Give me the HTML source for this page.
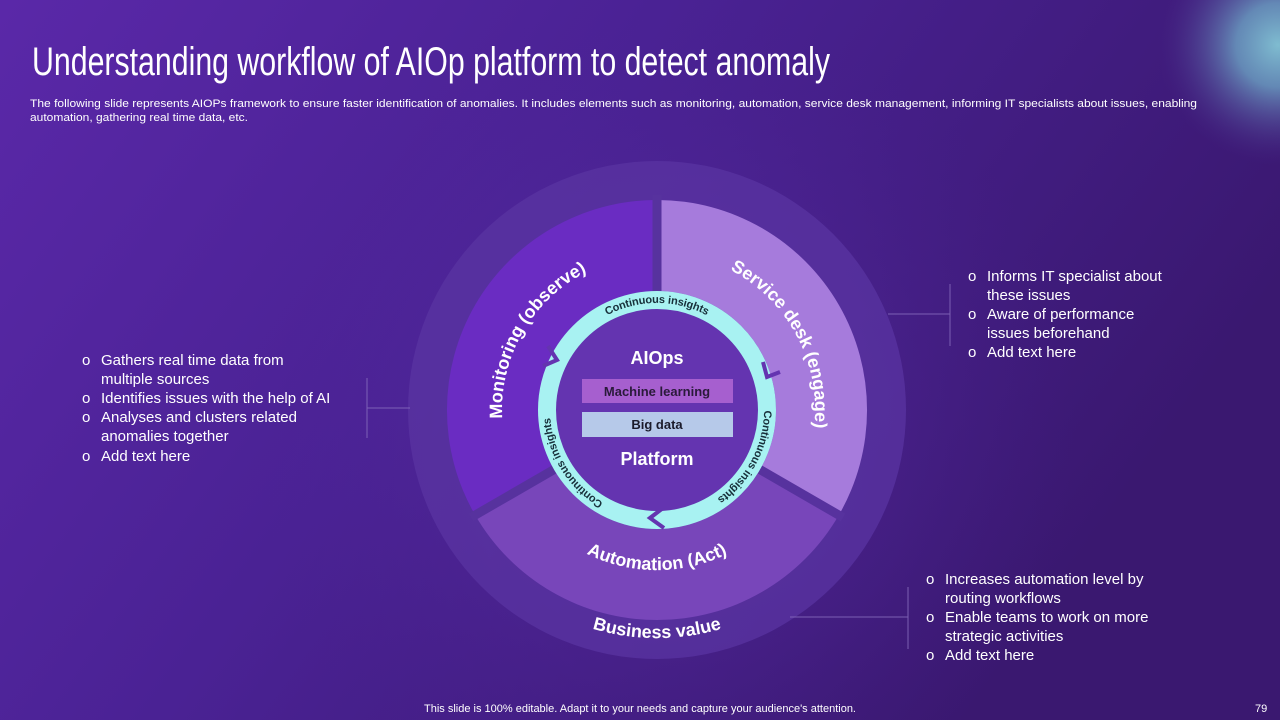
<!DOCTYPE html>
<html><head><meta charset="utf-8"><style>
html,body{margin:0;padding:0;width:1280px;height:720px;overflow:hidden;background:#42208a}
svg{display:block}
text{font-family:"Liberation Sans",Arial,sans-serif}
</style></head><body>
<svg width="1280" height="720" viewBox="0 0 1280 720" xmlns="http://www.w3.org/2000/svg">
<defs>
<linearGradient id="bg" x1="0" y1="0" x2="1" y2="0.4">
<stop offset="0" stop-color="#5a28a8"/><stop offset="0.45" stop-color="#4a2294"/><stop offset="1" stop-color="#3a1870"/>
</linearGradient>
<radialGradient id="glow" cx="1278" cy="45" r="120" gradientUnits="userSpaceOnUse">
<stop offset="0" stop-color="#7fbcd0"/><stop offset="0.35" stop-color="#6a9cc0" stop-opacity="0.85"/><stop offset="1" stop-color="#4a2a8a" stop-opacity="0"/>
</radialGradient>
<radialGradient id="halo" cx="657" cy="420" r="420" gradientUnits="userSpaceOnUse">
<stop offset="0" stop-color="#6a3ab8" stop-opacity="0.5"/><stop offset="1" stop-color="#4a2294" stop-opacity="0"/>
</radialGradient>
<path id="pTop" d="M572.7,339.3 A110,110 0 0 1 741.3,339.3"/>
<path id="pRight" d="M759,368.8 A110,110 0 0 1 679.9,517.6"/>
<path id="pLeft" d="M641.7,518.9 A110,110 0 0 1 552.4,376"/>
<path id="pMon" d="M522.8,487.5 A155,155 0 0 1 657,255"/>
<path id="pSvc" d="M662.5,252 A158,158 0 0 1 791,493.7"/>
<path id="pAut" d="M534.4,512.9 A160,160 0 0 0 779.6,512.9"/>
<path id="pBiz" d="M482.3,556.6 A228,228 0 0 0 831.7,556.6"/>
</defs>
<rect width="1280" height="720" fill="url(#bg)"/>
<rect width="1280" height="720" fill="url(#halo)"/>
<circle cx="1278" cy="45" r="120" fill="url(#glow)"/>

<text x="32" y="75" font-size="40" fill="#fff" textLength="798" lengthAdjust="spacingAndGlyphs">Understanding workflow of AIOp platform to detect anomaly</text>
<text x="30" y="107" font-size="11" fill="#fff" textLength="1167" lengthAdjust="spacingAndGlyphs">The following slide represents AIOPs framework to ensure faster identification of anomalies. It includes elements such as monitoring, automation, service desk management, informing IT specialists about issues, enabling</text>
<text x="30" y="121" font-size="11" fill="#fff" textLength="218" lengthAdjust="spacingAndGlyphs">automation, gathering real time data, etc.</text>

<circle cx="657" cy="410" r="249" fill="#5a34a2" opacity="0.75"/>
<path d="M657,410 L657,200 A210,210 0 0 1 838.9,515 Z" fill="#a67bdc"/>
<path d="M657,410 L838.9,515 A210,210 0 0 1 475.1,515 Z" fill="#7846ba"/>
<path d="M657,410 L475.1,515 A210,210 0 0 1 657,200 Z" fill="#6a2cc2"/>
<g stroke="#57329e" stroke-width="9">
<line x1="657" y1="410" x2="657" y2="195"/>
<line x1="657" y1="410" x2="843" y2="517.5"/>
<line x1="657" y1="410" x2="471" y2="517.5"/>
</g>
<circle cx="657" cy="410" r="119" fill="#6434b0"/>
<circle cx="657" cy="410" r="110" fill="none" stroke="#a8f2f2" stroke-width="18"/>
<g fill="none" stroke="#6434b0" stroke-width="4">
<polyline points="548,346 557,360 543,366"/>
<polyline points="763,362 767,377 780,372"/>
<polyline points="663,508 650,518 664,528"/>
</g>
<g font-size="11" font-weight="bold" fill="#17303a" dominant-baseline="central">
<text><textPath href="#pTop" startOffset="50%" text-anchor="middle">Continuous  insights</textPath></text>
<text><textPath href="#pRight" startOffset="50%" text-anchor="middle">Continuous  insights</textPath></text>
<text><textPath href="#pLeft" startOffset="50%" text-anchor="middle">Continuous  insights</textPath></text>
</g>
<text x="657" y="364" font-size="18" font-weight="bold" fill="#fff" text-anchor="middle">AIOps</text>
<rect x="582" y="379" width="151" height="24" fill="#a65fcf"/>
<text x="657" y="396" font-size="13" font-weight="bold" fill="#2a1a3a" text-anchor="middle">Machine learning</text>
<rect x="582" y="412" width="151" height="25" fill="#b6c9e9"/>
<text x="657" y="429" font-size="13" font-weight="bold" fill="#1a1a2a" text-anchor="middle">Big data</text>
<text x="657" y="465" font-size="18" font-weight="bold" fill="#fff" text-anchor="middle">Platform</text>

<g font-size="18" font-weight="bold" fill="#fff">
<text><textPath href="#pMon" startOffset="50%" text-anchor="middle">Monitoring (observe)</textPath></text>
<text><textPath href="#pSvc" startOffset="50%" text-anchor="middle">Service desk (engage)</textPath></text>
<text><textPath href="#pAut" startOffset="50%" text-anchor="middle">Automation (Act)</textPath></text>
<text><textPath href="#pBiz" startOffset="50%" text-anchor="middle">Business value</textPath></text>
</g>

<g stroke="#8a70c0" stroke-width="1" opacity="0.8">
<line x1="367" y1="378" x2="367" y2="438"/><line x1="367" y1="408" x2="410" y2="408"/>
<line x1="950" y1="284" x2="950" y2="346"/><line x1="888" y1="314" x2="950" y2="314"/>
<line x1="908" y1="587" x2="908" y2="649"/><line x1="790" y1="617" x2="908" y2="617"/>
</g>

<g font-size="15" fill="#fff">
<text x="82" y="365">o</text><text x="101" y="365">Gathers real time data from</text>
<text x="101" y="384">multiple sources</text>
<text x="82" y="403">o</text><text x="101" y="403">Identifies issues with the help of AI</text>
<text x="82" y="422">o</text><text x="101" y="422">Analyses and clusters related</text>
<text x="101" y="441">anomalies together</text>
<text x="82" y="461">o</text><text x="101" y="461">Add text here</text>

<text x="968" y="281">o</text><text x="987" y="281">Informs IT specialist about</text>
<text x="987" y="300">these issues</text>
<text x="968" y="319">o</text><text x="987" y="319">Aware of performance</text>
<text x="987" y="338">issues beforehand</text>
<text x="968" y="357">o</text><text x="987" y="357">Add text here</text>

<text x="926" y="584">o</text><text x="945" y="584">Increases automation level by</text>
<text x="945" y="603">routing workflows</text>
<text x="926" y="622">o</text><text x="945" y="622">Enable teams to work on more</text>
<text x="945" y="641">strategic activities</text>
<text x="926" y="660">o</text><text x="945" y="660">Add text here</text>
</g>

<text x="640" y="712" font-size="11" fill="#fff" text-anchor="middle">This slide is 100% editable. Adapt it to your needs and capture your audience's attention.</text>
<text x="1255" y="712" font-size="11" fill="#fff">79</text>
</svg>
</body></html>
